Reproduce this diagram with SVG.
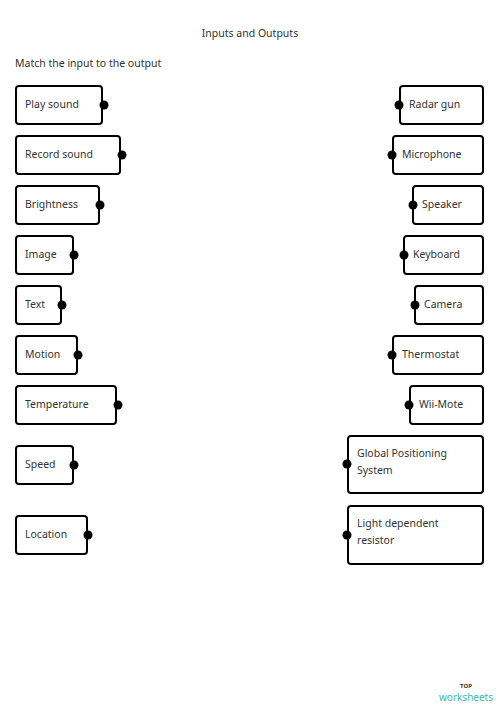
<svg xmlns="http://www.w3.org/2000/svg" width="500" height="707" viewBox="0 0 500 707">
<style>
text{font-family:"Noto Sans","Lato","Liberation Sans",sans-serif;font-size:10.5px;fill:#333}
.box{fill:#fff;stroke:#000;stroke-width:2}
.dot{fill:#000}
</style>
<rect width="500" height="707" fill="#fff"/>
<text x="250" y="37" text-anchor="middle">Inputs and Outputs</text>
<text x="15" y="67">Match the input to the output</text>
<g id="in-play"><rect class="box" x="16" y="86" width="86" height="38" rx="3"/><text x="25" y="108">Play sound</text><circle class="dot" cx="104" cy="105" r="4.5"/></g>
<g id="in-record"><rect class="box" x="16" y="136" width="104" height="38" rx="3"/><text x="25" y="158">Record sound</text><circle class="dot" cx="122" cy="155" r="4.5"/></g>
<g id="in-bright"><rect class="box" x="16" y="186" width="83" height="38" rx="3"/><text x="25" y="208">Brightness</text><circle class="dot" cx="100" cy="205" r="4.5"/></g>
<g id="in-image"><rect class="box" x="16" y="236" width="57" height="38" rx="3"/><text x="25" y="258">Image</text><circle class="dot" cx="74" cy="255" r="4.5"/></g>
<g id="in-text"><rect class="box" x="16" y="286" width="45" height="38" rx="3"/><text x="25" y="308">Text</text><circle class="dot" cx="62" cy="305" r="4.5"/></g>
<g id="in-motion"><rect class="box" x="16" y="336" width="61" height="38" rx="3"/><text x="25" y="358">Motion</text><circle class="dot" cx="78" cy="355" r="4.5"/></g>
<g id="in-temp"><rect class="box" x="16" y="386" width="100" height="38" rx="3"/><text x="25" y="408">Temperature</text><circle class="dot" cx="118" cy="405" r="4.5"/></g>
<g id="in-speed"><rect class="box" x="16" y="446" width="57" height="38" rx="3"/><text x="25" y="468">Speed</text><circle class="dot" cx="74" cy="465" r="4.5"/></g>
<g id="in-location"><rect class="box" x="16" y="516" width="71" height="38" rx="3"/><text x="25" y="538">Location</text><circle class="dot" cx="88" cy="535" r="4.5"/></g>

<g id="out-radar"><rect class="box" x="400" y="86" width="83" height="38" rx="3"/><text x="409" y="108">Radar gun</text><circle class="dot" cx="399" cy="105" r="4.5"/></g>
<g id="out-mic"><rect class="box" x="393" y="136" width="90" height="38" rx="3"/><text x="402" y="158">Microphone</text><circle class="dot" cx="392" cy="155" r="4.5"/></g>
<g id="out-speaker"><rect class="box" x="413" y="186" width="70" height="38" rx="3"/><text x="422" y="208">Speaker</text><circle class="dot" cx="413" cy="205" r="4.5"/></g>
<g id="out-keyboard"><rect class="box" x="404" y="236" width="79" height="38" rx="3"/><text x="413" y="258">Keyboard</text><circle class="dot" cx="404" cy="255" r="4.5"/></g>
<g id="out-camera"><rect class="box" x="415" y="286" width="68" height="38" rx="3"/><text x="424" y="308">Camera</text><circle class="dot" cx="415" cy="305" r="4.5"/></g>
<g id="out-thermo"><rect class="box" x="393" y="336" width="90" height="38" rx="3"/><text x="402" y="358">Thermostat</text><circle class="dot" cx="392" cy="355" r="4.5"/></g>
<g id="out-wii"><rect class="box" x="410" y="386" width="73" height="38" rx="3"/><text x="419" y="408">Wii-Mote</text><circle class="dot" cx="409" cy="405" r="4.5"/></g>
<g id="out-gps"><rect class="box" x="348" y="436" width="135" height="57" rx="3"/><text x="357" y="457">Global Positioning</text><text x="357" y="474">System</text><circle class="dot" cx="347" cy="464" r="4.5"/></g>
<g id="out-ldr"><rect class="box" x="348" y="506" width="135" height="58" rx="3"/><text x="357" y="527">Light dependent</text><text x="357" y="544">resistor</text><circle class="dot" cx="347" cy="535" r="4.5"/></g>

<g id="connectors"></g>
<g id="logo">
<text x="466" y="688" text-anchor="middle" style="font-size:6px;font-weight:bold;fill:#333">TOP</text>
<text x="466" y="701" text-anchor="middle" style="font-size:10px;fill:#3cb8a8">worksheets</text>
</g>
</svg>
